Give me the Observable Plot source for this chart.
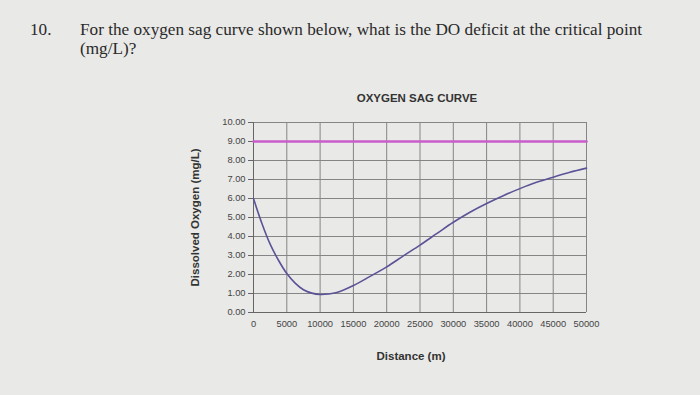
<!DOCTYPE html>
<html>
<head>
<meta charset="utf-8">
<script src="https://cdn.jsdelivr.net/npm/d3@7"></script>
<script src="https://cdn.jsdelivr.net/npm/@observablehq/plot@0.6"></script>
<style>
  html, body { margin: 0; padding: 0; background: #e9e9e7; }
  body { width: 700px; height: 395px; position: relative; overflow: hidden; }
  .q { position: absolute; font-family: "Liberation Serif", "DejaVu Serif", serif; font-size: 17.2px; color: #2a2a2a; line-height: 19px; }
  .t { position: absolute; font-family: "Liberation Sans", Arial, sans-serif; font-weight: bold; color: #333; }
  #chart { position: absolute; left: 0; top: 0; }
  #chart svg g[aria-label="y-axis label"] text { font-weight: bold; font-size: 11.5px; fill: #333; }
</style>
</head>
<body>
<div class="q" style="left:30px; top:20px;">10.</div>
<div class="q" style="left:80px; top:20px;">For the oxygen sag curve shown below, what is the DO deficit at the critical point<br>(mg/L)?</div>
<div class="t" style="left:0; width:834px; text-align:center; top:92px; font-size:11.5px;">OXYGEN SAG CURVE</div>
<div class="t" style="left:0; width:822px; text-align:center; top:350px; font-size:11.5px;">Distance (m)</div>
<div id="chart"></div>
<script>
const distance = [0, 1250, 2500, 3750, 5000, 6250, 7500, 8750, 10000, 11250, 12500, 15000, 17500, 20000, 22500, 25000, 27500, 30000, 32500, 35000, 37500, 40000, 42500, 45000, 47500, 50000];
const dissolvedOxygen = [6.0, 4.7, 3.6, 2.75, 2.05, 1.55, 1.2, 1.02, 0.95, 0.97, 1.05, 1.42, 1.9, 2.4, 2.98, 3.55, 4.15, 4.75, 5.28, 5.74, 6.15, 6.52, 6.85, 7.12, 7.38, 7.6];
const saturationDO = [9.0, 9.0];
const saturationX = [0, 50000];
const xTicks = [0, 5000, 10000, 15000, 20000, 25000, 30000, 35000, 40000, 45000, 50000];
const yTicks = [0, 1, 2, 3, 4, 5, 6, 7, 8, 9, 10];

const sag = distance.map((d, i) => ({x: d, y: dissolvedOxygen[i]}));
const sat = saturationX.map((d, i) => ({x: d, y: saturationDO[i]}));

const chart = Plot.plot({
  width: 700,
  height: 395,
  marginLeft: 253,
  marginRight: 114,
  marginTop: 122,
  marginBottom: 83,
  style: {background: "transparent", fontFamily: "Liberation Sans, Arial, sans-serif", fontSize: "9.3px", color: "#444"},
  x: {domain: [0, 50000], label: null},
  y: {domain: [0, 10], label: "Dissolved Oxygen (mg/L)", labelAnchor: "center", labelArrow: "none"},
  marks: [
    Plot.gridX(xTicks, {stroke: "#858585", strokeOpacity: 1, strokeWidth: 1}),
    Plot.gridY(yTicks, {stroke: "#858585", strokeOpacity: 1, strokeWidth: 1}),
    Plot.axisX(xTicks, {tickSize: 0, tickPadding: 8, tickFormat: d3.format("d"), fill: "#444", label: null}),
    Plot.axisY(yTicks, {tickSize: 5, tickPadding: 3, tickFormat: d3.format(".2f"), fill: "#444", stroke: "#666",
      label: "Dissolved Oxygen (mg/L)", labelAnchor: "center", labelArrow: "none", labelOffset: 63}),
    Plot.ruleX([0], {stroke: "#666"}),
    Plot.ruleY([0], {stroke: "#666"}),
    Plot.line(sat, {x: "x", y: "y", stroke: "#c95ccb", strokeWidth: 2.5}),
    Plot.line(sag, {x: "x", y: "y", stroke: "#5a5398", strokeWidth: 1.6, curve: "catmull-rom"})
  ]
});
document.getElementById("chart").appendChild(chart);
</script>
</body>
</html>
